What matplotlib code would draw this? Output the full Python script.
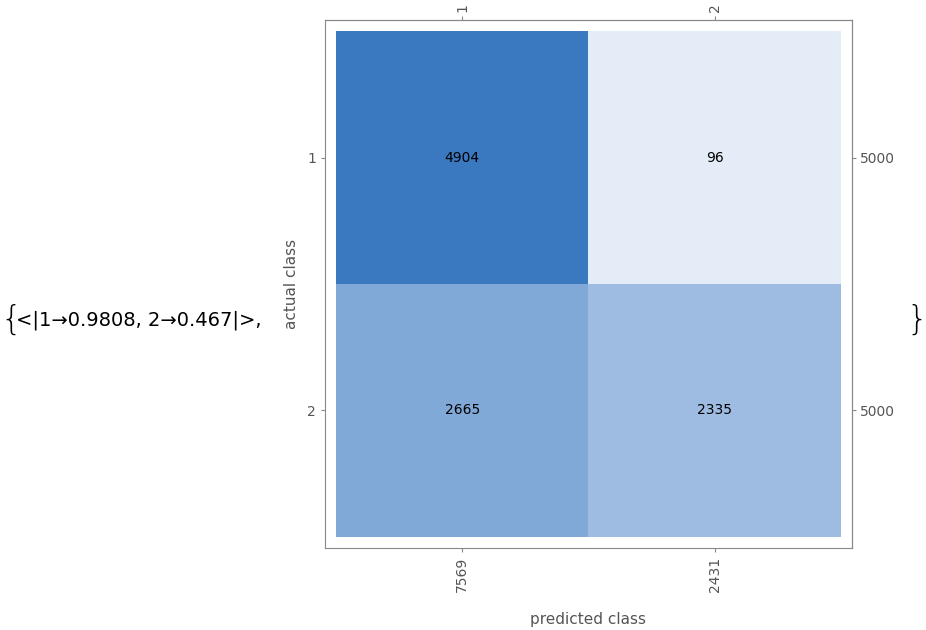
import matplotlib
matplotlib.use("Agg")
import matplotlib.pyplot as plt
import numpy as np
from matplotlib.colors import LinearSegmentedColormap

classes = ["1", "2"]
counts = np.array([[4904, 96], [2665, 2335]])
col_totals = ["7569", "2431"]
row_totals = ["5000", "5000"]
label_text = "<|1\u21920.9808, 2\u21920.467|>,"

W, H = 926, 630
fig = plt.figure(figsize=(W/100, H/100), dpi=100)
ax = fig.add_axes([325/W, 1-548/H, (852-325)/W, (548-20)/H])
cmap = LinearSegmentedColormap.from_list(
    "c", [(0, "#e8eff8"), (0.47, "#a0bde2"), (0.55, "#80a8d7"), (1, "#3a78c0")])
ax.imshow(counts, cmap=cmap, vmin=0, vmax=counts.max(), extent=(-0.5, 1.5, 1.5, -0.5))
pad = 0.044
ax.set_xlim(-0.5-pad, 1.5+pad)
ax.set_ylim(1.5+pad, -0.5-pad)
ax.set_aspect("auto")
for i in range(2):
    for j in range(2):
        ax.text(j, i, str(counts[i, j]), ha="center", va="center", fontsize=10, color="black")
grey = "#555555"
ax.set_xticks([0, 1])
ax.set_xticklabels(col_totals, rotation=90, color=grey)
ax.set_yticks([0, 1])
ax.set_yticklabels(classes, color=grey)
ax.tick_params(top=True, right=True, labeltop=False, labelright=False, color="#888888", length=3)
axt = ax.secondary_xaxis("top")
axt.set_xticks([0, 1]); axt.set_xticklabels(classes, rotation=90, color=grey)
axt.tick_params(length=0, pad=6)
axr = ax.secondary_yaxis("right")
axr.set_yticks([0, 1]); axr.set_yticklabels(row_totals, color=grey)
axr.tick_params(length=0, pad=6)
for s in list(ax.spines.values()) + [axt.spines["top"], axr.spines["right"]]:
    s.set_color("#888888")
ax.set_xlabel("predicted class", color=grey, fontsize=11, labelpad=14)
ax.set_ylabel("actual class", color=grey, fontsize=11, labelpad=6)
fig.text(0/W, 1-320/H, "{", fontsize=24, va="center", ha="left", fontweight="light")
fig.text(16/W, 1-320/H, label_text, fontsize=14, va="center", ha="left")
fig.text(906/W, 1-320/H, "}", fontsize=24, va="center", ha="left", fontweight="light")
fig.savefig("out.png", dpi=100)
